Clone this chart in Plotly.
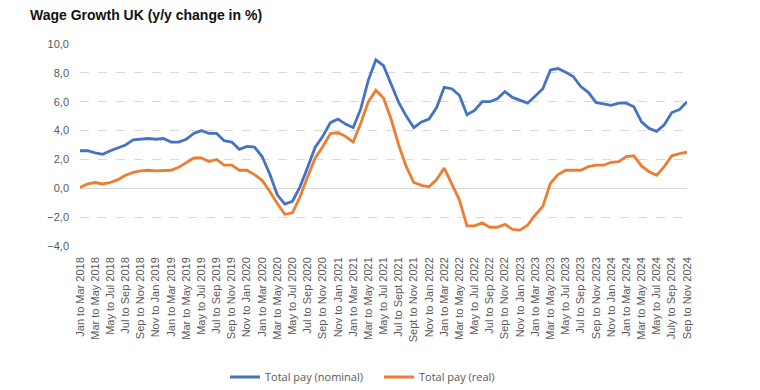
import plotly.graph_objects as go

months = ["Jan", "Feb", "Mar", "Apr", "May", "Jun", "Jul", "Aug", "Sep", "Oct", "Nov", "Dec"]
# rolling 3-month periods, Jan-Mar 2018 ... Sep-Nov 2024
categories = [f"{months[k % 12]} to {months[(k + 2) % 12]} {2018 + (k + 2) // 12}" for k in range(81)]

tick_labels = [
    "Jan to Mar 2018", "Mar to May 2018", "May to Jul 2018", "Jul to Sep 2018", "Sep to Nov 2018",
    "Nov to Jan 2019", "Jan to Mar 2019", "Mar to May 2019", "May to Jul 2019", "Jul to Sep 2019",
    "Sep to Nov 2019", "Nov to Jan 2020", "Jan to Mar 2020", "Mar to May 2020", "May to Jul 2020",
    "Jul to Sep 2020", "Sep to Nov 2020", "Nov to Jan 2021", "Jan to Mar 2021", "Mar to May 2021",
    "May to Jul 2021", "Jul to Sept 2021", "Sept to Nov 2021", "Nov to Jan 2022", "Jan to Mar 2022",
    "Mar to May 2022", "May to Jul 2022", "Jul to Sep 2022", "Sep to Nov 2022", "Nov to Jan 2023",
    "Jan to Mar 2023", "Mar to May 2023", "May to Jul 2023", "Jul to Sep 2023", "Sep to Nov 2023",
    "Nov to Jan 2024", "Jan to Mar 2024", "Mar to May 2024", "May to Jul 2024", "July to Sep 2024",
    "Sep to Nov 2024",
]

nominal = [
    2.6, 2.6, 2.45, 2.35, 2.6, 2.8, 3.0, 3.35, 3.4, 3.45,
    3.4, 3.45, 3.2, 3.2, 3.4, 3.8, 4.0, 3.8, 3.8, 3.3,
    3.2, 2.7, 2.9, 2.85, 2.2, 1.0, -0.45, -1.1, -0.9, 0.1,
    1.45, 2.85, 3.6, 4.55, 4.8, 4.45, 4.2, 5.5, 7.5, 8.9,
    8.5, 7.2, 5.95, 5.0, 4.2, 4.6, 4.8, 5.6, 7.0, 6.9,
    6.45, 5.1, 5.4, 6.0, 6.0, 6.2, 6.7, 6.3, 6.1, 5.9,
    6.4, 6.9, 8.2, 8.3, 8.05, 7.75, 7.05, 6.65, 5.95, 5.85,
    5.75, 5.9, 5.9, 5.65, 4.6, 4.15, 3.95, 4.4, 5.25, 5.45,
    6.0,
]

real = [
    0.05, 0.3, 0.4, 0.3, 0.4, 0.6, 0.9, 1.1, 1.2, 1.25,
    1.2, 1.25, 1.25, 1.45, 1.75, 2.1, 2.1, 1.85, 2.0, 1.6,
    1.6, 1.25, 1.25, 0.95, 0.55, -0.2, -1.05, -1.8, -1.7, -0.6,
    0.8, 2.1, 2.9, 3.8, 3.85, 3.6, 3.2, 4.5, 6.0, 6.8,
    6.25, 4.8, 3.0, 1.5, 0.4, 0.2, 0.1, 0.6, 1.4, 0.35,
    -0.8, -2.6, -2.6, -2.4, -2.7, -2.7, -2.5, -2.85, -2.9, -2.55,
    -1.85, -1.25, 0.35, 0.95, 1.25, 1.25, 1.25, 1.5, 1.6, 1.6,
    1.8, 1.85, 2.2, 2.25, 1.55, 1.15, 0.9, 1.5, 2.25, 2.4,
    2.5,
]

BLUE = "#4472C4"
ORANGE = "#ED7D31"
GREY = "#595959"

# the page places the figure 8 px from the top-left corner
W, H = 752, 382

fig = go.Figure()
fig.add_trace(go.Scatter(x=categories, y=nominal, mode="lines", name="Total pay (nominal)",
                         line=dict(color=BLUE, width=2.8)))
fig.add_trace(go.Scatter(x=categories, y=real, mode="lines", name="Total pay (real)",
                         line=dict(color=ORANGE, width=2.8)))

fig.update_layout(
    width=W, height=H,
    margin=dict(l=72, r=73, t=36, b=144, autoexpand=False),
    plot_bgcolor="white", paper_bgcolor="white",
    separators=", ",
    title=dict(text="<b>Wage Growth UK (y/y change in %)</b>",
               x=22 / W, xref="container", xanchor="left",
               y=1 - 7.5 / H, yref="container", yanchor="middle",
               font=dict(family="Liberation Sans", size=14, color="#111111")),
    legend=dict(orientation="h", x=217 / W, xref="container", xanchor="left",
                y=1 - 369 / H, yref="container", yanchor="middle",
                entrywidth=109, entrywidthmode="pixels",
                font=dict(family="Open Sans", size=11, color=GREY), bgcolor="rgba(0,0,0,0)"),
    font=dict(family="Liberation Sans", color=GREY),
)

fig.update_xaxes(
    type="category",
    tickmode="array", tickvals=categories[::2], ticktext=tick_labels,
    tickangle=-90, tickfont=dict(family="Liberation Sans", size=11, color=GREY),
    showgrid=False, showline=False, zeroline=False, ticks="",
    ticklabelstandoff=8, automargin=False,
)
fig.update_yaxes(
    range=[-4, 10], dtick=2, tick0=0, tickformat=".1f",
    showgrid=True, gridcolor="#d9d9d9", griddash="dash", gridwidth=1,
    zeroline=True, zerolinecolor="#d9d9d9", zerolinewidth=1.2,
    showline=False, ticks="",
    tickfont=dict(family="Liberation Sans", size=11, color=GREY),
    ticklabelstandoff=10, automargin=False,
)

fig.write_html("out.html")
